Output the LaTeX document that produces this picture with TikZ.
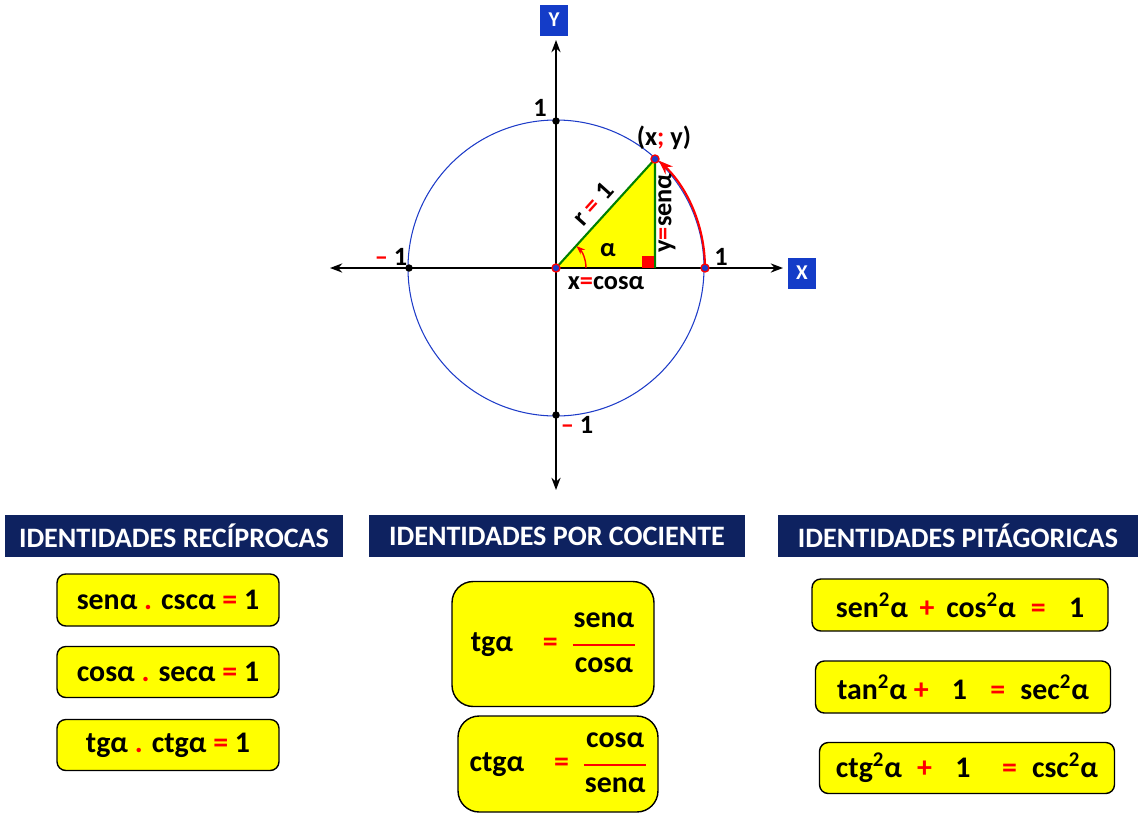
\documentclass[tikz,border=0pt]{standalone}
\usepackage{fontspec}
\setmainfont{Carlito}
\usetikzlibrary{arrows.meta}
\definecolor{navy}{RGB}{14,34,96}
\definecolor{cblue}{RGB}{30,60,200}
\definecolor{xblue}{RGB}{20,60,200}
\definecolor{yel}{RGB}{255,255,0}
\newcommand{\al}{α}
\begin{document}
\begin{tikzpicture}[x=0.02cm,y=-0.02cm,font=\bfseries,
  hdr/.style={fill=navy,text=white,minimum height=0.84cm,font=\bfseries\fontsize{16}{16}\selectfont},
  ybox/.style={fill=yel,draw=black,thick,rounded corners=5pt,font=\bfseries\fontsize{17}{17}\selectfont},
  lbl/.style={font=\bfseries\fontsize{15}{15}\selectfont},
  ax/.style={thick,-{Stealth[length=7pt]}},
  axbox/.style={fill=xblue,text=white,minimum width=0.55cm,minimum height=0.62cm,font=\bfseries\fontsize{12}{12}\selectfont},
  dot/.style={circle,fill=black,inner sep=1.5pt},
  rdot/.style={circle,fill=cblue,draw=red,thick,inner sep=1.6pt}]
\useasboundingbox (0,0) rectangle (1140,819);
\newcommand{\rd}[1]{\textcolor{red}{#1}}
\coordinate (O) at (556,268);
\coordinate (P) at (655,159);
\coordinate (F) at (655,268);
\coordinate (R) at (705,268);
\fill[yel] (O)--(F)--(P)--cycle;
\draw[cblue,semithick] (O) circle (148);
\draw[ax] (556,268)--(330,268);
\draw[ax] (556,268)--(783,268);
\draw[ax] (556,268)--(556,40);
\draw[ax] (556,268)--(556,490);
\draw[green!50!black,very thick] (O)--(P)--(F);
\fill[red] (642,256) rectangle (654,268);
\draw[red,very thick,-{Stealth[length=8pt]}] (R) arc (0:-46.5:148);
\draw[red,thick,-{Stealth[length=5pt]}] (586,268) arc (0:-47:30);
\node[dot] (t) at (556,121) {};
\node[dot] (b) at (556,415) {};
\node[dot] (l) at (409,268) {};
\node[rdot] (o) at (O) {};
\node[rdot] (r) at (R) {};
\node[rdot] (p) at (P) {};
\node[axbox] (Y) at (554,20) {Y};
\node[axbox] (X) at (802,273) {X};
\node[lbl] (l1) at (540,108) {1};
\node[lbl] (xy) at (664,138) {(x\rd{;} y)};
\node[lbl,rotate=48,inner sep=0pt] (r1) at (593,204) {r \rd{=} 1};
\node[lbl,rotate=90] (ys) at (667,213) {y\rd{=}sen\al};
\node[lbl] (alp) at (608,250) {\al};
\node[lbl] (xc) at (606,283) {x\rd{=}cos\al};
\node[lbl] (r1b) at (721,257) {1};
\node[lbl] (lm) at (391,257) {\rd{–} 1};
\node[lbl] (bm) at (577,425) {\rd{–} 1};
\node[hdr,minimum width=6.76cm] (h1) at (174,536) {IDENTIDADES RECÍPROCAS};
\node[hdr,minimum width=7.54cm] (h2) at (557,536) {IDENTIDADES POR COCIENTE};
\node[hdr,minimum width=7.2cm] (h3) at (958,536) {IDENTIDADES PITÁGORICAS};
\node[ybox,minimum width=4.44cm,minimum height=1.04cm] (a1) at (168,600) {sen\al\ \rd{.} csc\al\ \rd{=} 1};
\node[ybox,minimum width=4.44cm,minimum height=1.02cm] (a2) at (168,672) {cos\al\ \rd{.} sec\al\ \rd{=} 1};
\node[ybox,minimum width=4.44cm,minimum height=1.02cm] (a3) at (168,745) {tg\al\ \rd{.} ctg\al\ \rd{=} 1};
\node[ybox,minimum width=4.04cm,minimum height=2.5cm,rounded corners=12pt] (q1) at (553,644) {tg\al\quad \rd{=}\; $\vcenter{\hbox{\begin{tabular}{@{}c@{}}sen\al\\[-6pt]\textcolor{red}{\rule{1.25cm}{1.5pt}}\\[-2pt]cos\al\end{tabular}}}$};
\node[ybox,minimum width=4.0cm,minimum height=1.92cm,rounded corners=12pt] (q2) at (558,764) {ctg\al\quad \rd{=}\; $\vcenter{\hbox{\begin{tabular}{@{}c@{}}cos\al\\[-6pt]\textcolor{red}{\rule{1.25cm}{1.5pt}}\\[-2pt]sen\al\end{tabular}}}$};
\node[ybox,minimum width=5.92cm,minimum height=1.04cm] (p1) at (960,605) {sen\textsuperscript{2}\al\ \,\rd{+}\, cos\textsuperscript{2}\al\ \;\rd{=}\;\; 1};
\node[ybox,minimum width=5.9cm,minimum height=1.04cm] (p2) at (963,687) {tan\textsuperscript{2}\al\ \rd{+}\;\; 1 \;\;\rd{=}\; sec\textsuperscript{2}\al};
\node[ybox,minimum width=5.9cm,minimum height=1.02cm] (p3) at (967,768) {ctg\textsuperscript{2}\al\ \;\rd{+}\;\; 1 \;\;\;\rd{=}\; csc\textsuperscript{2}\al};
\end{tikzpicture}
\end{document}
